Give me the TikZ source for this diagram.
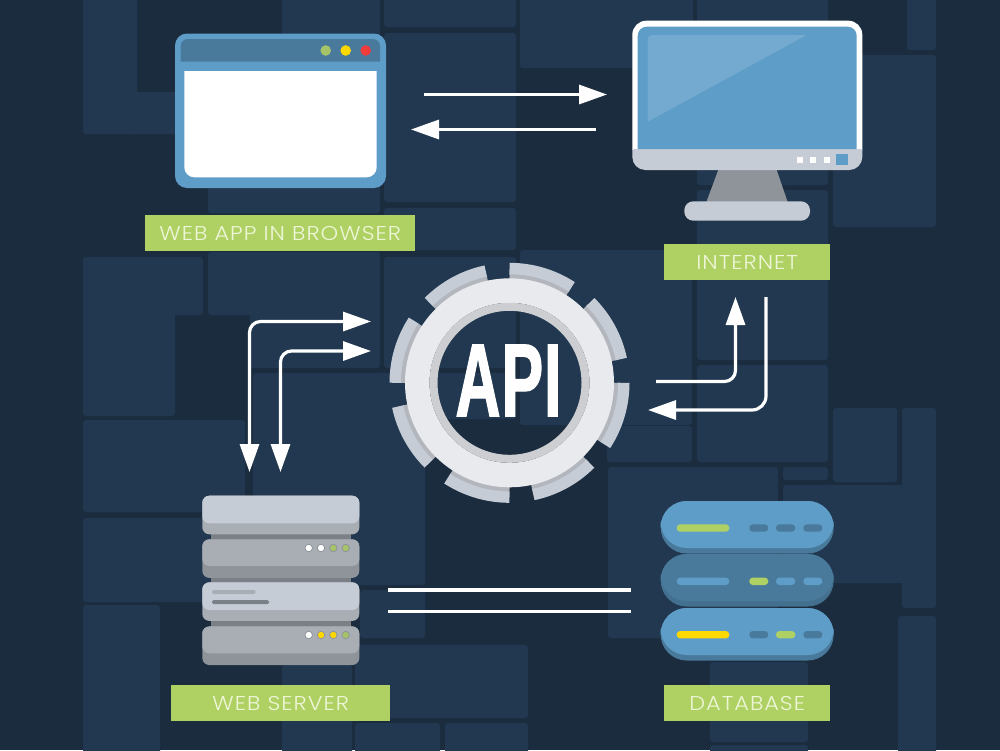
\documentclass[tikz,border=0pt]{standalone}
\usepackage{fontspec}
\usetikzlibrary{arrows.meta}
\newfontfamily\labelfont[UprightFont=* Light,LetterSpace=5,FakeStretch=1.12]{Poppins}
\newfontfamily\apifont[FakeStretch=0.6,FakeBold=1.2,LetterSpace=1]{Liberation Sans Bold}
\definecolor{baseBg}{HTML}{1B2C3E}
\definecolor{tileBg}{HTML}{213850}
\definecolor{paneBlue}{HTML}{5F9DC9}
\definecolor{paneDark}{HTML}{4A7A9B}
\definecolor{paneDeep}{HTML}{43708F}
\definecolor{paneLight}{HTML}{74AAD0}
\definecolor{limeTag}{HTML}{AFD163}
\definecolor{limeText}{HTML}{EEF6D8}
\definecolor{steelLight}{HTML}{C5CCD6}
\definecolor{steelMid}{HTML}{A9AEB4}
\definecolor{steelDark}{HTML}{8F949B}
\definecolor{steelDeep}{HTML}{7B8087}
\definecolor{gearWhite}{HTML}{E8EAED}
\definecolor{gearGrey}{HTML}{CDCED1}
\definecolor{gearTooth}{HTML}{B3B7BD}
\definecolor{dotGreen}{HTML}{A6C36A}
\definecolor{dotYellow}{HTML}{FFD800}
\definecolor{dotRed}{HTML}{F03C3C}
\tikzset{
  tile/.style={fill=tileBg,rounded corners=3pt},
  tag/.style={fill=limeTag,text=limeText,inner sep=0pt,minimum height=36pt,font=\labelfont\fontsize{20}{20}\selectfont},
  flow/.style={draw=white,line width=3.2pt,-{Triangle[length=28pt,width=19pt]}},
  flowboth/.style={draw=white,line width=3.2pt,{Triangle[length=28pt,width=19pt]}-{Triangle[length=28pt,width=19pt]}},
  wire/.style={draw=white,line width=3.2pt},
  lamp/.style={circle,inner sep=0pt,minimum size=7.5pt,line width=.8pt}
}
\newcommand{\serverUnit}[4]{%
  \fill[#4,rounded corners=7pt] (202.3,#1) rectangle (359.3,#1+38.6);
  \fill[#3,rounded corners=7pt] (202.3,#1) rectangle (359.3,#2);
}
\newcommand{\dbUnit}[3]{%
  \fill[#3,rounded corners=26pt] (660.7,#1) rectangle (833.7,#1+52.5);
  \fill[#2,rounded corners=26pt] (660.7,#1) rectangle (833.7,#1+47);
}
\newcommand{\dbBar}[4]{%
  \fill[#4,rounded corners=3.5pt] (#1,#3-3.7) rectangle (#2,#3+3.7);
}
\begin{document}
\begin{tikzpicture}[x=1pt,y=-1pt]
  \useasboundingbox (0,0) rectangle (1000,750);
  \fill[baseBg] (0,0) rectangle (1000,750);

  % background tiles
  \foreach \xa/\ya/\xb/\yb in {
    83/-5/137/134, 130/92/208/134, 282/-5/380/120, 208/100/380/213,
    384/-5/516/27, 384/33/516/202, 384/208/516/250,
    520/-5/693/68, 697/-5/828/185, 697/190/828/360, 697/365/828/462,
    907/-5/936/50, 833/55/936/227,
    83/257/203/315, 83/300/175/416, 208/252/380/315, 250/310/380/368,
    384/257/516/368, 520/250/692/425, 384/373/516/419, 253/373/425/585,
    607/426/692/462, 83/420/245/512, 83/518/245/602, 83/605/160/755,
    360/590/425/638, 355/645/528/718, 282/665/352/755,
    355/723/440/755, 445/723/528/755,
    608/467/778/638, 783/467/828/480, 783/485/917/583,
    833/408/897/482, 902/408/936/608, 898/616/936/755,
    710/662/808/742, 710/745/808/755}
    \fill[tile] (\xa,\ya) rectangle (\xb,\yb);

  % browser window
  \fill[paneBlue,rounded corners=12pt] (175,33.5) rectangle (386,188);
  \fill[paneDark] (180.7,61.7) {[rounded corners=7pt] -- (180.7,39) -- (380,39)} -- (380,61.7) -- cycle;
  \fill[white] (184.3,71) {[rounded corners=10pt] -- (184.3,177.3) -- (376.7,177.3)} -- (376.7,71) -- cycle;
  \fill[dotGreen] (325.7,50.5) circle (5.3);
  \fill[dotYellow] (345.7,50.5) circle (5.3);
  \fill[dotRed] (365.7,50.5) circle (5.3);

  % monitor
  \fill[steelDark] (719,168) -- (776,168) -- (788,203) -- (706,203) -- cycle;
  \fill[steelLight,rounded corners=9pt] (684.3,201.3) rectangle (810,220.7);
  \fill[white] (632.3,150) {[rounded corners=14pt] -- (632.3,20.7) -- (862.3,20.7)} -- (862.3,150) -- cycle;
  \fill[steelLight] (632.3,149) {[rounded corners=13pt] -- (632.3,170) -- (862.3,170)} -- (862.3,149) -- cycle;
  \fill[paneBlue] (637.7,149) {[rounded corners=9pt] -- (637.7,26.7) -- (856.7,26.7)} -- (856.7,149) -- cycle;
  \fill[paneLight] (647.7,121.7) {[rounded corners=4pt] -- (647.7,35)} -- (806.7,35) -- cycle;
  \foreach \sx in {796.7,810,823.5}
    \fill[white] (\sx,156.7) rectangle ++(6,6);
  \fill[paneBlue] (836,154) rectangle (847.7,165);

  % gear
  \begin{scope}[shift={(509.5,382.8)},y=1pt]
    \foreach \ang in {0,45,...,315} {
      \draw[steelLight,line width=12pt] (\ang:114) arc[start angle=\ang,end angle=\ang-33,radius=114];
      \draw[gearTooth,line width=5pt] (\ang:106) arc[start angle=\ang,end angle=\ang-33,radius=106];
    }
    \fill[gearWhite,even odd rule] (0,0) circle (104.5) (0,0) circle (80);
    \fill[gearGrey,even odd rule] (0,0) circle (80) (0,0) circle (72);
  \end{scope}
  \node[text=white,inner sep=0pt,font=\apifont\fontsize{104}{104}\selectfont] (apiLabel) at (508.5,380.5) {API};

  % web server
  \fill[steelDeep] (210.7,530) rectangle (350.7,630);
  \serverUnit{495.7}{523.3}{steelLight}{steelMid}
  \serverUnit{539.3}{566}{steelMid}{steelDark}
  \serverUnit{582.3}{610}{steelLight}{steelMid}
  \serverUnit{626.4}{653.3}{steelMid}{steelDark}
  \fill[steelMid,rounded corners=1.5pt] (212,590) rectangle (255.7,594);
  \fill[steelDeep,rounded corners=1.5pt] (212,600) rectangle (269,604);
  \foreach \lx/\lc/\lb/\ly/\ln in {
    308.7/white/steelDark/548/lampA, 321/white/steelDark/548/lampB,
    333.3/dotGreen/steelDark/548/lampC, 345.7/dotGreen/steelDark/548/lampD,
    308.7/white/steelDark/635/lampE, 321/dotYellow/steelDark/635/lampF,
    333.3/dotYellow/steelDark/635/lampG, 345.7/dotGreen/steelDark/635/lampH}
    \node[lamp,fill=\lc,draw=\lb] (\ln) at (\lx,\ly) {};

  % database
  \dbUnit{554}{paneDark}{paneDeep}
  \dbUnit{501}{paneBlue}{paneDark}
  \dbUnit{608}{paneBlue}{paneDark}
  \dbBar{676.7}{729.3}{528}{limeTag}
  \dbBar{749.3}{768.3}{528}{paneDark}
  \dbBar{776}{795.3}{528}{paneDark}
  \dbBar{803.3}{822.3}{528}{paneDark}
  \dbBar{676.7}{729.3}{581.3}{paneBlue}
  \dbBar{749.3}{768.3}{581.3}{limeTag}
  \dbBar{776}{795.3}{581.3}{paneBlue}
  \dbBar{803.3}{822.3}{581.3}{paneBlue}
  \dbBar{676.7}{729.3}{634.7}{dotYellow}
  \dbBar{749.3}{768.3}{634.7}{paneDark}
  \dbBar{776}{795.3}{634.7}{limeTag}
  \dbBar{803.3}{822.3}{634.7}{paneDark}

  % labels
  \node[tag,minimum width=269.5pt] (browserTag) at (280.2,233) {WEB APP IN BROWSER};
  \node[tag,minimum width=166.5pt] (internetTag) at (747.2,262) {INTERNET};
  \node[tag,minimum width=218.5pt] (serverTag) at (280.7,703) {WEB SERVER};
  \node[tag,minimum width=166.5pt] (databaseTag) at (747.2,703) {DATABASE};

  % connector ends
  \coordinate (browserOut) at (424,94.5);
  \coordinate (monitorIn) at (607,94.5);
  \coordinate (monitorOut) at (596,129.5);
  \coordinate (browserIn) at (411,129.5);
  \coordinate (gearWestA) at (371,321.5);
  \coordinate (gearWestB) at (371,351);
  \coordinate (serverNorthA) at (249.5,472);
  \coordinate (serverNorthB) at (280.5,472);
  \coordinate (gearEastA) at (656,381.5);
  \coordinate (gearEastB) at (648,410);
  \coordinate (internetSouthA) at (735.5,297);
  \coordinate (internetSouthB) at (766,297);
  \coordinate (serverEastA) at (388,590);
  \coordinate (serverEastB) at (388,611.5);
  \coordinate (databaseWestA) at (631,590);
  \coordinate (databaseWestB) at (631,611.5);

  % connectors
  \draw[flow] (browserOut) -- (monitorIn);
  \draw[flow] (monitorOut) -- (browserIn);
  \draw[flowboth,rounded corners=11pt] (serverNorthA) |- (gearWestA);
  \draw[flowboth,rounded corners=11pt] (serverNorthB) |- (gearWestB);
  \draw[flow,rounded corners=11pt] (gearEastA) -| (internetSouthA);
  \draw[flow,rounded corners=14pt] (internetSouthB) |- (gearEastB);
  \draw[wire] (serverEastA) -- (databaseWestA);
  \draw[wire] (serverEastB) -- (databaseWestB);
\end{tikzpicture}
\end{document}
